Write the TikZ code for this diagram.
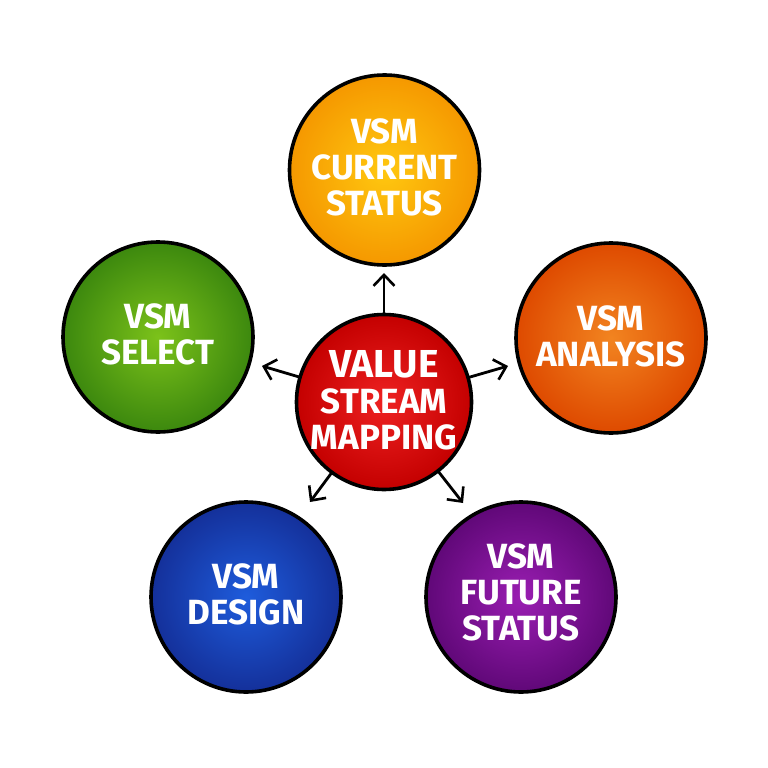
\documentclass[tikz,border=0pt]{standalone}
\usepackage{fontspec}
\setmainfont{Fira Sans}
\usetikzlibrary{arrows.meta}
\definecolor{orIn}{HTML}{FFC810}\definecolor{orOut}{HTML}{F59800}
\definecolor{rtIn}{HTML}{F28420}\definecolor{rtOut}{HTML}{DE4A00}
\definecolor{grIn}{HTML}{7CC21A}\definecolor{grOut}{HTML}{3C880E}
\definecolor{blIn}{HTML}{1E5CDC}\definecolor{blOut}{HTML}{14309A}
\definecolor{puIn}{HTML}{9A1EB2}\definecolor{puOut}{HTML}{600878}
\definecolor{rdIn}{HTML}{EE2222}\definecolor{rdOut}{HTML}{C40000}
\tikzset{
  bubble/.style={circle, draw=black, line width=3.6pt, minimum size=190pt, inner sep=0pt},
  hub/.style={bubble, minimum size=175pt},
  lbl/.style={text=white, align=center, inner sep=0pt, font=\bfseries\fontsize{35}{36}\selectfont},
  arr/.style={-{Straight Barb[length=11pt,width=21pt,line width=2.6pt]}, line width=2.8pt, black, shorten <=-1pt}
}
\begin{document}
\begin{tikzpicture}[x=1pt,y=-1pt]
\useasboundingbox[fill=white] (0,0) rectangle (768,768);
\node[hub, inner color=rdIn, outer color=rdOut] (c) at (384,402) {};
\node[lbl] (ct) at (384,400) {{\fontsize{39}{36}\selectfont VALUE}\\STREAM\\MAPPING};
\node[bubble, inner color=orIn, outer color=orOut] (t) at (384.5,170) {};
\node[lbl] (tt) at (384.5,167) {VSM\\CURRENT\\STATUS};
\node[bubble, inner color=rtIn, outer color=rtOut] (r) at (611,338) {};
\node[lbl] (rt) at (611,336) {VSM\\ANALYSIS};
\node[bubble, inner color=grIn, outer color=grOut] (l) at (158,337) {};
\node[lbl] (lt) at (158,334) {VSM\\SELECT};
\node[bubble, inner color=blIn, outer color=blOut] (bl) at (246,597) {};
\node[lbl] (blt) at (246,594) {VSM\\DESIGN};
\node[bubble, inner color=puIn, outer color=puOut] (br) at (521,597) {};
\node[lbl] (brt) at (521,592) {VSM\\FUTURE\\STATUS};
\coordinate (tU) at (384,273);
\coordinate (tL) at (262,366);
\coordinate (tR) at (508,366);
\coordinate (tBL) at (310,502);
\coordinate (tBR) at (463,503);
\draw[arr] (c) -- (tU);
\draw[arr] (c) -- (tL);
\draw[arr] (c) -- (tR);
\draw[arr] (c) -- (tBL);
\draw[arr] (c) -- (tBR);
\end{tikzpicture}
\end{document}
